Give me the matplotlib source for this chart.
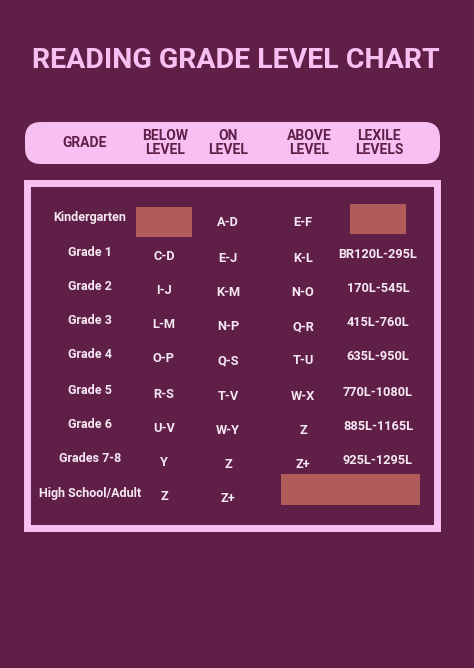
import matplotlib
matplotlib.use("Agg")
import matplotlib.pyplot as plt
from matplotlib.patches import FancyBboxPatch, Rectangle

title = "READING GRADE LEVEL CHART"
headers = ["GRADE", "BELOW\nLEVEL", "ON\nLEVEL", "ABOVE\nLEVEL", "LEXILE\nLEVELS"]
grades = ["Kindergarten", "Grade 1", "Grade 2", "Grade 3", "Grade 4", "Grade 5",
          "Grade 6", "Grades 7-8", "High School/Adult"]
below = [None, "C-D", "I-J", "L-M", "O-P", "R-S", "U-V", "Y", "Z"]
on_level = ["A-D", "E-J", "K-M", "N-P", "Q-S", "T-V", "W-Y", "Z", "Z+"]
above = ["E-F", "K-L", "N-O", "Q-R", "T-U", "W-X", "Z", "Z+", None]
lexile = [None, "BR120L-295L", "170L-545L", "415L-760L", "635L-950L",
          "770L-1080L", "885L-1165L", "925L-1295L", None]

BG = "#5f1f46"; PINK = "#f8c0f2"; RED = "#b05c5a"; TXT = "#f6e8f2"

fig = plt.figure(figsize=(4.74, 6.68), dpi=100)
fig.patch.set_facecolor(BG)
ax = fig.add_axes([0, 0, 1, 1])
ax.set_xlim(0, 474); ax.set_ylim(668, 0); ax.axis("off")
FONT = "Roboto"

ax.text(236, 61, title, ha="center", va="center", color=PINK, fontsize=20.5,
        fontweight="bold", family=FONT)
ax.add_patch(FancyBboxPatch((25, 122), 415, 42, boxstyle="round,pad=0,rounding_size=16",
                            fc=PINK, ec="none"))
hx = [85, 165, 228, 309, 379]
for x, h in zip(hx, headers):
    ax.text(x, 143, h, ha="center", va="center", color=BG, fontsize=10,
            fontweight="bold", family=FONT, linespacing=1.0)
ax.add_patch(Rectangle((27, 183), 410, 345, fc=BG, ec=PINK, lw=5))

gy = [217, 253, 287, 321, 355, 390, 424, 459, 493]
cols = [(164, below, 4), (228, on_level, 6), (303, above, 6), (378, lexile, 2)]
for i, g in enumerate(grades):
    ax.text(90, gy[i], g, ha="center", va="center", color=TXT, fontsize=9,
            fontweight="bold", family=FONT)
for x, vals, dy in cols:
    for i, v in enumerate(vals):
        if v is not None:
            ax.text(x, gy[i] + dy, v, ha="center", va="center", color=TXT,
                    fontsize=9.2, fontweight="bold", family=FONT)
# placeholder blocks for blank cells
ax.add_patch(Rectangle((136, 207), 56, 30, fc=RED, ec="none"))
ax.add_patch(Rectangle((350, 204), 56, 30, fc=RED, ec="none"))
ax.add_patch(Rectangle((281, 474), 139, 31, fc=RED, ec="none"))

fig.savefig("out.png", dpi=100, facecolor=BG)
